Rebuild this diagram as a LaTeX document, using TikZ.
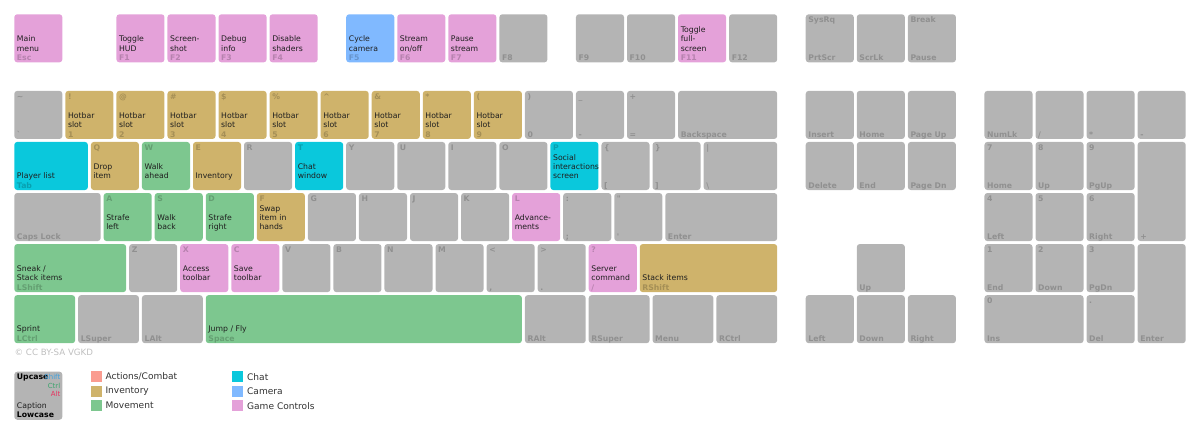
\documentclass[tikz,border=0pt]{standalone}
\usepackage{fontspec}
\setmainfont{DejaVu Sans}
\usepackage{tikz}
\usetikzlibrary{positioning}
\usepackage{xcolor}

\definecolor{kgray}{HTML}{B4B4B4}
\definecolor{kpink}{HTML}{E4A1D9}
\definecolor{kblue}{HTML}{80B9FF}
\definecolor{kcyan}{HTML}{0AC8DC}
\definecolor{kgold}{HTML}{CFB36B}
\definecolor{kgreen}{HTML}{7DC78F}
\definecolor{kred}{HTML}{FA9C90}
\definecolor{kshift}{HTML}{3FA2E0}
\definecolor{kctrl}{HTML}{3BA46C}
\definecolor{kalt}{HTML}{E8325E}

\tikzset{
  keybox/.style={draw=none, rounded corners=2.2pt, anchor=north west, inner sep=0pt, outer sep=0pt},
  keytop/.style={inner sep=0pt, font=\fontsize{5.8}{7}\selectfont\bfseries},
  keycap/.style={inner sep=0pt, text=black!88, font=\fontsize{5.8}{7}\selectfont},
  modtext/.style={inner sep=0pt, font=\fontsize{5.2}{6}\selectfont},
  swatch/.style={inner sep=0pt, minimum width=8.2pt, minimum height=8.2pt},
  legtext/.style={inner sep=0pt, anchor=west, text=black!80, font=\fontsize{6.8}{8}\selectfont},
}

% one key: name, x, y, width, height (in key units), colour, upper label, caption, lower label
\newcommand{\kbkey}[9]{%
  \node[keybox, fill=#6, minimum width={(#4*51.06-3)*0.75}, minimum height={(#5*51.06-3)*0.75}]
    (#1) at ({14.3+#2*51.06},{14.3+#3*51.06}) {};
  \node[keytop, text=#6!80!black, anchor=base west] (#1-up) at ([xshift=1.8pt,yshift=-6.2pt]#1.north west) {#7};
  \node[keycap, anchor=base west] (#1-cap) at ([xshift=1.8pt,yshift=1.4pt]#1.south west)
    {\begin{tabular}[b]{@{}l@{}}#8\\\textbf{\color{#6!80!black}#9}\end{tabular}};
}

\begin{document}
\begin{tikzpicture}[x=0.75pt, y=-0.75pt]
    \useasboundingbox (0,0) rectangle (1200,434);

    % function row
    \kbkey{esc}{0}{0}{1}{1}{kpink}{}{Main\\menu}{Esc}
    \kbkey{f1}{2}{0}{1}{1}{kpink}{}{Toggle\\HUD}{F1}
    \kbkey{f2}{3}{0}{1}{1}{kpink}{}{Screen-\\shot}{F2}
    \kbkey{f3}{4}{0}{1}{1}{kpink}{}{Debug\\info}{F3}
    \kbkey{f4}{5}{0}{1}{1}{kpink}{}{Disable\\shaders}{F4}
    \kbkey{f5}{6.5}{0}{1}{1}{kblue}{}{Cycle\\camera}{F5}
    \kbkey{f6}{7.5}{0}{1}{1}{kpink}{}{Stream\\on/off}{F6}
    \kbkey{f7}{8.5}{0}{1}{1}{kpink}{}{Pause\\stream}{F7}
    \kbkey{f8}{9.5}{0}{1}{1}{kgray}{}{}{F8}
    \kbkey{f9}{11}{0}{1}{1}{kgray}{}{}{F9}
    \kbkey{f10}{12}{0}{1}{1}{kgray}{}{}{F10}
    \kbkey{f11}{13}{0}{1}{1}{kpink}{}{Toggle\\full-\\screen}{F11}
    \kbkey{f12}{14}{0}{1}{1}{kgray}{}{}{F12}
    \kbkey{prtscr}{15.5}{0}{1}{1}{kgray}{SysRq}{}{PrtScr}
    \kbkey{scrlk}{16.5}{0}{1}{1}{kgray}{}{}{ScrLk}
    \kbkey{pause}{17.5}{0}{1}{1}{kgray}{Break}{}{Pause}

    % number row
    \kbkey{grave}{0}{1.5}{1}{1}{kgray}{\textasciitilde}{}{\textasciigrave}
    \kbkey{k1}{1}{1.5}{1}{1}{kgold}{!}{Hotbar\\slot}{1}
    \kbkey{k2}{2}{1.5}{1}{1}{kgold}{@}{Hotbar\\slot}{2}
    \kbkey{k3}{3}{1.5}{1}{1}{kgold}{\#}{Hotbar\\slot}{3}
    \kbkey{k4}{4}{1.5}{1}{1}{kgold}{\$}{Hotbar\\slot}{4}
    \kbkey{k5}{5}{1.5}{1}{1}{kgold}{\%}{Hotbar\\slot}{5}
    \kbkey{k6}{6}{1.5}{1}{1}{kgold}{\textasciicircum}{Hotbar\\slot}{6}
    \kbkey{k7}{7}{1.5}{1}{1}{kgold}{\&}{Hotbar\\slot}{7}
    \kbkey{k8}{8}{1.5}{1}{1}{kgold}{*}{Hotbar\\slot}{8}
    \kbkey{k9}{9}{1.5}{1}{1}{kgold}{(}{Hotbar\\slot}{9}
    \kbkey{k0}{10}{1.5}{1}{1}{kgray}{)}{}{0}
    \kbkey{minus}{11}{1.5}{1}{1}{kgray}{\_}{}{-}
    \kbkey{equal}{12}{1.5}{1}{1}{kgray}{+}{}{=}
    \kbkey{bksp}{13}{1.5}{2}{1}{kgray}{}{}{Backspace}
    \kbkey{insert}{15.5}{1.5}{1}{1}{kgray}{}{}{Insert}
    \kbkey{home}{16.5}{1.5}{1}{1}{kgray}{}{}{Home}
    \kbkey{pgup}{17.5}{1.5}{1}{1}{kgray}{}{}{Page Up}
    \kbkey{numlk}{19}{1.5}{1}{1}{kgray}{}{}{NumLk}
    \kbkey{numdiv}{20}{1.5}{1}{1}{kgray}{}{}{/}
    \kbkey{nummul}{21}{1.5}{1}{1}{kgray}{}{}{*}
    \kbkey{numsub}{22}{1.5}{1}{1}{kgray}{}{}{-}

    % top letter row
    \kbkey{tab}{0}{2.5}{1.5}{1}{kcyan}{}{Player list}{Tab}
    \kbkey{q}{1.5}{2.5}{1}{1}{kgold}{Q}{Drop\\item}{}
    \kbkey{w}{2.5}{2.5}{1}{1}{kgreen}{W}{Walk\\ahead}{}
    \kbkey{e}{3.5}{2.5}{1}{1}{kgold}{E}{Inventory}{}
    \kbkey{r}{4.5}{2.5}{1}{1}{kgray}{R}{}{}
    \kbkey{t}{5.5}{2.5}{1}{1}{kcyan}{T}{Chat\\window}{}
    \kbkey{y}{6.5}{2.5}{1}{1}{kgray}{Y}{}{}
    \kbkey{u}{7.5}{2.5}{1}{1}{kgray}{U}{}{}
    \kbkey{i}{8.5}{2.5}{1}{1}{kgray}{I}{}{}
    \kbkey{o}{9.5}{2.5}{1}{1}{kgray}{O}{}{}
    \kbkey{p}{10.5}{2.5}{1}{1}{kcyan}{P}{Social\\interactions\\screen}{}
    \kbkey{lbrack}{11.5}{2.5}{1}{1}{kgray}{\{}{}{[}
    \kbkey{rbrack}{12.5}{2.5}{1}{1}{kgray}{\}}{}{]}
    \kbkey{bslash}{13.5}{2.5}{1.5}{1}{kgray}{\textbar}{}{\textbackslash}
    \kbkey{delete}{15.5}{2.5}{1}{1}{kgray}{}{}{Delete}
    \kbkey{end}{16.5}{2.5}{1}{1}{kgray}{}{}{End}
    \kbkey{pgdn}{17.5}{2.5}{1}{1}{kgray}{}{}{Page Dn}
    \kbkey{num7}{19}{2.5}{1}{1}{kgray}{7}{}{Home}
    \kbkey{num8}{20}{2.5}{1}{1}{kgray}{8}{}{Up}
    \kbkey{num9}{21}{2.5}{1}{1}{kgray}{9}{}{PgUp}
    \kbkey{numadd}{22}{2.5}{1}{2}{kgray}{}{}{+}

    % home row
    \kbkey{caps}{0}{3.5}{1.75}{1}{kgray}{}{}{Caps Lock}
    \kbkey{a}{1.75}{3.5}{1}{1}{kgreen}{A}{Strafe\\left}{}
    \kbkey{s}{2.75}{3.5}{1}{1}{kgreen}{S}{Walk\\back}{}
    \kbkey{d}{3.75}{3.5}{1}{1}{kgreen}{D}{Strafe\\right}{}
    \kbkey{f}{4.75}{3.5}{1}{1}{kgold}{F}{Swap\\item in\\hands}{}
    \kbkey{g}{5.75}{3.5}{1}{1}{kgray}{G}{}{}
    \kbkey{h}{6.75}{3.5}{1}{1}{kgray}{H}{}{}
    \kbkey{j}{7.75}{3.5}{1}{1}{kgray}{J}{}{}
    \kbkey{k}{8.75}{3.5}{1}{1}{kgray}{K}{}{}
    \kbkey{l}{9.75}{3.5}{1}{1}{kpink}{L}{Advance-\\ments}{}
    \kbkey{semi}{10.75}{3.5}{1}{1}{kgray}{:}{}{;}
    \kbkey{quote}{11.75}{3.5}{1}{1}{kgray}{\textquotedbl}{}{\textquotesingle}
    \kbkey{enter}{12.75}{3.5}{2.25}{1}{kgray}{}{}{Enter}
    \kbkey{num4}{19}{3.5}{1}{1}{kgray}{4}{}{Left}
    \kbkey{num5}{20}{3.5}{1}{1}{kgray}{5}{}{}
    \kbkey{num6}{21}{3.5}{1}{1}{kgray}{6}{}{Right}

    % shift row
    \kbkey{lshift}{0}{4.5}{2.25}{1}{kgreen}{}{Sneak /\\Stack items}{LShift}
    \kbkey{z}{2.25}{4.5}{1}{1}{kgray}{Z}{}{}
    \kbkey{x}{3.25}{4.5}{1}{1}{kpink}{X}{Access\\toolbar}{}
    \kbkey{c}{4.25}{4.5}{1}{1}{kpink}{C}{Save\\toolbar}{}
    \kbkey{v}{5.25}{4.5}{1}{1}{kgray}{V}{}{}
    \kbkey{b}{6.25}{4.5}{1}{1}{kgray}{B}{}{}
    \kbkey{n}{7.25}{4.5}{1}{1}{kgray}{N}{}{}
    \kbkey{m}{8.25}{4.5}{1}{1}{kgray}{M}{}{}
    \kbkey{comma}{9.25}{4.5}{1}{1}{kgray}{<}{}{,}
    \kbkey{period}{10.25}{4.5}{1}{1}{kgray}{>}{}{.}
    \kbkey{slash}{11.25}{4.5}{1}{1}{kpink}{?}{Server\\command}{/}
    \kbkey{rshift}{12.25}{4.5}{2.75}{1}{kgold}{}{Stack items}{RShift}
    \kbkey{arup}{16.5}{4.5}{1}{1}{kgray}{}{}{Up}
    \kbkey{num1}{19}{4.5}{1}{1}{kgray}{1}{}{End}
    \kbkey{num2}{20}{4.5}{1}{1}{kgray}{2}{}{Down}
    \kbkey{num3}{21}{4.5}{1}{1}{kgray}{3}{}{PgDn}
    \kbkey{numenter}{22}{4.5}{1}{2}{kgray}{}{}{Enter}

    % bottom row
    \kbkey{lctrl}{0}{5.5}{1.25}{1}{kgreen}{}{Sprint}{LCtrl}
    \kbkey{lsuper}{1.25}{5.5}{1.25}{1}{kgray}{}{}{LSuper}
    \kbkey{lalt}{2.5}{5.5}{1.25}{1}{kgray}{}{}{LAlt}
    \kbkey{space}{3.75}{5.5}{6.25}{1}{kgreen}{}{Jump / Fly}{Space}
    \kbkey{ralt}{10}{5.5}{1.25}{1}{kgray}{}{}{RAlt}
    \kbkey{rsuper}{11.25}{5.5}{1.25}{1}{kgray}{}{}{RSuper}
    \kbkey{menu}{12.5}{5.5}{1.25}{1}{kgray}{}{}{Menu}
    \kbkey{rctrl}{13.75}{5.5}{1.25}{1}{kgray}{}{}{RCtrl}
    \kbkey{arleft}{15.5}{5.5}{1}{1}{kgray}{}{}{Left}
    \kbkey{ardown}{16.5}{5.5}{1}{1}{kgray}{}{}{Down}
    \kbkey{arright}{17.5}{5.5}{1}{1}{kgray}{}{}{Right}
    \kbkey{num0}{19}{5.5}{2}{1}{kgray}{0}{}{Ins}
    \kbkey{numdot}{21}{5.5}{1}{1}{kgray}{.}{}{Del}

    % copyright
    \node[inner sep=0pt, anchor=base west, text=black!25, font=\fontsize{6.5}{8}\selectfont] (copy) at (14.3,356) {© CC BY-SA VGKD};

    % legend key
    \node[keybox, fill=kgray, minimum width={48.06*0.75}, minimum height={48.06*0.75}] (legend) at (14.3,371.7) {};
    \node[keytop, text=black, anchor=base west] (legend-up) at ([xshift=1.8pt,yshift=-6.2pt]legend.north west) {Upcase};
    \node[modtext, text=kshift, anchor=base east] (legend-shift) at ([xshift=-1.4pt,yshift=-6.2pt]legend.north east) {Shift};
    \node[modtext, text=kctrl, anchor=base east] (legend-ctrl) at ([xshift=-1.4pt,yshift=-12.4pt]legend.north east) {Ctrl};
    \node[modtext, text=kalt, anchor=base east] (legend-alt) at ([xshift=-1.4pt,yshift=-18.7pt]legend.north east) {Alt};
    \node[keycap, anchor=base west] (legend-cap) at ([xshift=1.8pt,yshift=1.4pt]legend.south west)
      {\begin{tabular}[b]{@{}l@{}}Caption\\\textbf{\color{black}Lowcase}\end{tabular}};

    % legend colours
    \node[swatch, fill=kred] (lg-act) at (96.2,376.7) {};
    \node[legtext, right=2.5pt of lg-act] (lg-act-t) {Actions/Combat};
    \node[swatch, fill=kgold] (lg-inv) at (96.2,391.2) {};
    \node[legtext, right=2.5pt of lg-inv] (lg-inv-t) {Inventory};
    \node[swatch, fill=kgreen] (lg-mov) at (96.2,405.7) {};
    \node[legtext, right=2.5pt of lg-mov] (lg-mov-t) {Movement};
    \node[swatch, fill=kcyan] (lg-chat) at (237.8,376.7) {};
    \node[legtext, right=2.5pt of lg-chat] (lg-chat-t) {Chat};
    \node[swatch, fill=kblue] (lg-cam) at (237.8,391.2) {};
    \node[legtext, right=2.5pt of lg-cam] (lg-cam-t) {Camera};
    \node[swatch, fill=kpink] (lg-game) at (237.8,405.7) {};
    \node[legtext, right=2.5pt of lg-game] (lg-game-t) {Game Controls};
\end{tikzpicture}
\end{document}
